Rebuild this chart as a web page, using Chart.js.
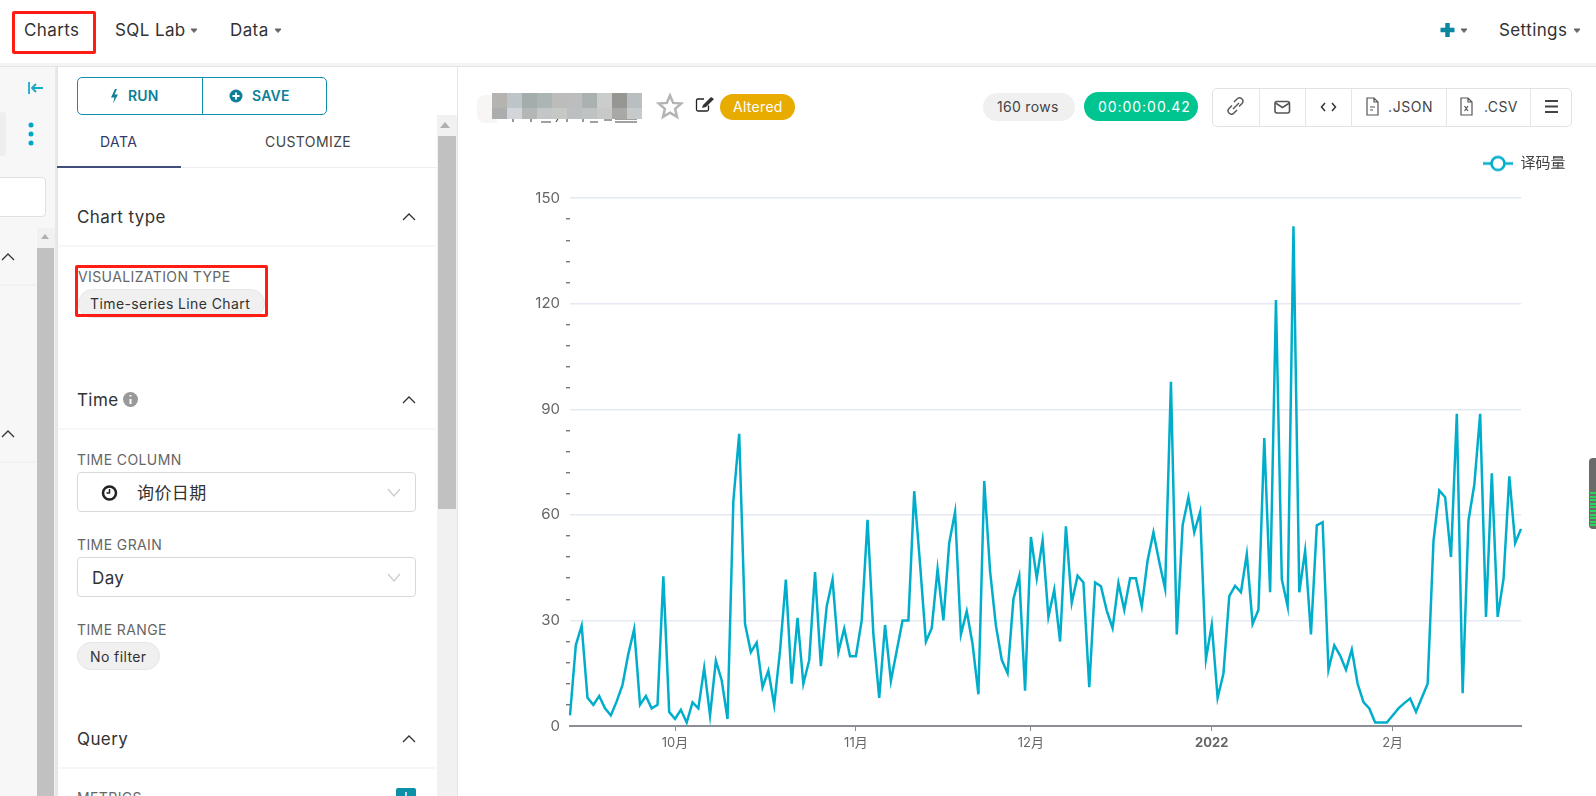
<!DOCTYPE html>
<html><head><meta charset="utf-8">
<script src="https://cdn.jsdelivr.net/npm/chart.js@4"></script>
<style>
html,body{margin:0;padding:0;width:1596px;height:796px;overflow:hidden;background:#fff;font-family:Inter,"Noto Sans CJK SC",sans-serif;color:#323232}
.b{position:absolute;box-sizing:border-box}
.t{position:absolute;white-space:nowrap;transform:translateY(-50%);line-height:1.2;letter-spacing:.4px}
.lab{font-size:14px;color:#666}
.h{font-size:17px;color:#323232}
.sel{position:absolute;box-sizing:border-box;left:77px;width:339px;height:40px;border:1px solid #d9d9d9;border-radius:4px}
.pill{position:absolute;box-sizing:border-box;background:#f0f0f0;border:1px solid #e6e6e6;border-radius:15px}
svg{position:absolute;overflow:visible}
canvas{position:absolute;left:458px;top:130px}
</style></head><body>

<!-- left collapsed panel -->
<div class="b" style="left:0;top:67px;width:57px;height:729px;background:#f7f7f7;border-right:2px solid #e8e8e8"></div>
<div class="b" style="left:0;top:112px;width:6px;height:44px;background:#eee;border-radius:0 4px 4px 0"></div>
<div class="b" style="left:-6px;top:177px;width:52px;height:40px;background:#fff;border:1px solid #e0e0e0;border-radius:4px"></div>
<div class="b" style="left:37px;top:228px;width:18px;height:568px;background:#f1f1f1"></div>
<div class="b" style="left:37px;top:248px;width:17px;height:548px;background:#c1c1c1"></div>
<svg style="left:0;top:0" width="60" height="796">
 <path d="M41 234l4 5h-8z" transform="translate(4,0)" fill="#b0b0b0"/>
 <path d="M2 260l6-6 6 6M2 437l6-6 6 6" fill="none" stroke="#323232" stroke-width="1.3"/>
 <path d="M0 285H36M0 462H36" stroke="#ececec"/>
 <path d="M29 82v12M43 88H32M36 84l-4 4 4 4" fill="none" stroke="#19a8c9" stroke-width="1.8"/>
 <circle cx="31" cy="125" r="2.5" fill="#00a6c8"/><circle cx="31" cy="134" r="2.5" fill="#00a6c8"/><circle cx="31" cy="143" r="2.5" fill="#00a6c8"/>
</svg>

<!-- top nav -->
<div class="b" style="left:0;top:0;width:1596px;height:63px;background:#fff"></div>
<div class="b" style="left:0;top:63px;width:1596px;height:4px;background:#f4f4f4;border-bottom:1px solid #e4e4e4"></div>
<div class="b" style="left:12px;top:11px;width:84px;height:43px;border:3px solid #ff1d14;border-radius:2px"></div>
<span class="t" style="left:24px;top:30px;font-size:17px">Charts</span>
<span class="t" style="left:115px;top:30px;font-size:17px">SQL Lab</span>
<span class="t" style="left:230px;top:30px;font-size:17px">Data</span>
<span class="t" style="left:1499px;top:30px;font-size:17px">Settings</span>
<svg style="left:0;top:0" width="1596" height="60">
 <path d="M191 29h6l-3 3.500zM275 29h6l-3 3.500zM1461 29h6l-3 3.500zM1574 29h6l-3 3.500z" fill="#666" stroke="#666"/>
 <path d="M1447.500 23v14M1440.500 30h14" stroke="#0d86a0" stroke-width="4.500"/>
</svg>

<!-- control panel -->
<div class="b" style="left:57px;top:67px;width:1px;height:729px;background:#e4e4e4"></div>
<div class="b" style="left:77px;top:77px;width:250px;height:38px;border:1px solid #0d8fa8;border-radius:5px"></div>
<div class="b" style="left:202px;top:77px;width:1px;height:38px;background:#0d8fa8"></div>
<span class="t" style="left:128px;top:96px;font-size:14px;font-weight:600;color:#0d7f97;letter-spacing:.2px">RUN</span>
<span class="t" style="left:252px;top:96px;font-size:14px;font-weight:600;color:#0d7f97;letter-spacing:.2px">SAVE</span>
<svg style="left:0;top:0" width="460" height="796">
 <path d="M115 89l-4 8.500h3.500l-1.500 6 5-9h-3.500l2.500-5.500z" fill="#0d7f97"/>
 <circle cx="236" cy="96" r="6.500" fill="#0d7f97"/><path d="M232.500 96h7M236 92.500v7" stroke="#fff" stroke-width="1.800"/>
 <path d="M403 220l6-6 6 6M403 403l6-6 6 6M403 742l6-6 6 6" fill="none" stroke="#323232" stroke-width="1.300"/>
 <path d="M57 246H436M57 429H436M57 768H436" stroke="#efefef"/>
 <circle cx="130.500" cy="399.500" r="7.500" fill="#999"/><path d="M130.500 399v5M130.500 395v1.600" stroke="#fff" stroke-width="2"/>
 <path d="M388 489l6 7 6-7M388 574l6 7 6-7" fill="none" stroke="#ccc" stroke-width="1.200"/>
 <circle cx="109.500" cy="493" r="6.500" fill="#fff" stroke="#222" stroke-width="2.500"/><path d="M109.500 489v4h-3" fill="none" stroke="#222" stroke-width="1.500"/>
</svg>
<span class="t" style="left:100px;top:142px;font-size:14px;color:#323a6a">DATA</span>
<span class="t" style="left:265px;top:142px;font-size:14px;color:#444">CUSTOMIZE</span>
<div class="b" style="left:57px;top:166px;width:124px;height:2px;background:#444e7c"></div>
<div class="b" style="left:181px;top:167px;width:256px;height:1px;background:#efefef"></div>
<span class="t h" style="left:77px;top:217px">Chart type</span>
<span class="t lab" style="left:78px;top:277px">VISUALIZATION TYPE</span>
<div class="pill" style="left:78px;top:289px;width:187px;height:29px"></div>
<span class="t" style="left:90px;top:304px;font-size:14px">Time-series Line Chart</span>
<div class="b" style="left:75px;top:265px;width:193px;height:52px;border:3px solid #ff1d14;border-radius:2px"></div>
<span class="t h" style="left:77px;top:400px">Time</span>
<span class="t lab" style="left:77px;top:460px">TIME COLUMN</span>
<div class="sel" style="top:472px"></div>
<span class="t" style="left:137px;top:493px;font-size:17px">询价日期</span>
<span class="t lab" style="left:77px;top:545px">TIME GRAIN</span>
<div class="sel" style="top:557px"></div>
<span class="t" style="left:92px;top:578px;font-size:17px">Day</span>
<span class="t lab" style="left:77px;top:630px">TIME RANGE</span>
<div class="pill" style="left:77px;top:642px;width:83px;height:28px"></div>
<span class="t" style="left:90px;top:657px;font-size:14px">No filter</span>
<span class="t h" style="left:77px;top:739px">Query</span>
<span class="t lab" style="left:77px;top:798px">METRICS</span>
<div class="b" style="left:396px;top:788px;width:20px;height:20px;background:#0d8fa8;border-radius:2px"></div>
<svg style="left:0;top:0" width="460" height="796"><path d="M406 792v4" stroke="#fff" stroke-width="1.500"/></svg>
<div class="b" style="left:437px;top:115px;width:20px;height:681px;background:#f1f1f1"></div>
<div class="b" style="left:438px;top:136px;width:18px;height:373px;background:#c1c1c1"></div>
<svg style="left:0;top:0" width="460" height="140"><path d="M445 122l5 6h-10z" fill="#b0b0b0"/></svg>
<div class="b" style="left:457px;top:67px;width:1px;height:729px;background:#e4e4e4"></div>

<!-- chart header -->
<div class="b" style="left:477px;top:95px;width:20px;height:28px;background:#f7f6f5;border-radius:8px 0 0 8px"></div>
<svg style="left:0;top:0" width="700" height="140">
 <path d="M513 119v3M531 117v5M541 118h10M551 122h-10M559 117l-3 5M567 117v5M583 117v5M590 118h8M590 122h8M604 120h8M615 119h22M615 122h22" stroke="#444" fill="none" stroke-width="1.100"/>
 <g id="blur"></g>
 <path d="M670 95.500l3.200 7.400 8 .7-6.100 5.300 1.900 7.900-7-4.200-7 4.200 1.900-7.900-6.100-5.300 8-.7z" fill="none" stroke="#b4b4b4" stroke-width="2.500"/>
 <path d="M704 99h-6a1.500 1.500 0 0 0-1.500 1.500v9a1.500 1.500 0 0 0 1.500 1.500h9a1.500 1.500 0 0 0 1.500-1.500v-4" fill="none" stroke="#222" stroke-width="1.300"/><path d="M703 105l8-8 3 2-8 8-4 1z" fill="#333"/>
</svg>
<div class="b" style="left:720px;top:94px;width:75px;height:26px;background:#e8ab00;border-radius:13px"></div>
<span class="t" style="left:733px;top:107px;font-size:14px;color:#fff;letter-spacing:.3px">Altered</span>
<div class="b" style="left:983px;top:93px;width:92px;height:28px;background:#f0f0f0;border-radius:14px"></div>
<span class="t" style="left:997px;top:107px;font-size:14px;color:#444;letter-spacing:.3px">160 rows</span>
<div class="b" style="left:1084px;top:92px;width:114px;height:29px;background:#00c590;border-radius:15px"></div>
<span class="t" style="left:1098px;top:107px;font-size:14px;color:#fff;letter-spacing:.95px">00:00:00.42</span>
<div class="b" style="left:1212px;top:88px;width:360px;height:39px;border:1px solid #e2e2e2;border-radius:5px"></div>
<svg style="left:0;top:0" width="1596" height="140">
 <path d="M1259.500 89v37M1305.500 89v37M1351.500 89v37M1446.500 89v37M1530.500 89v37" stroke="#e6e6e6"/>
 <path d="M1234 102l3-3a3.200 3.200 0 0 1 5 4.500l-3 3M1237 110l-3 3a3.200 3.200 0 0 1-5-4.500l3-3M1233 109l6-6" fill="none" stroke="#555" stroke-width="1.400"/>
 <rect x="1275" y="101.500" width="14.500" height="11.500" rx="2" fill="none" stroke="#555" stroke-width="1.600"/><path d="M1275.500 103l7 4.500 7-4.500" fill="none" stroke="#555" stroke-width="1.500"/>
 <path d="M1325 103l-3.500 4 3.500 4M1332 103l3.500 4-3.500 4" fill="none" stroke="#333" stroke-width="1.500"/>
 <path d="M1367 98h7l4 4v13h-11zM1374 98v4h4M1370 107h5M1370 110h3" fill="none" stroke="#555" stroke-width="1.200"/>
 <path d="M1461 98h7l4 4v13h-11zM1468 98v4h4M1464.500 106l3.500 5M1468 106l-3.500 5" fill="none" stroke="#555" stroke-width="1.200"/>
 <path d="M1545 101h13M1545 106.500h13M1545 112h13" stroke="#444" stroke-width="2"/>
</svg>
<span class="t" style="left:1388px;top:107px;font-size:14px;color:#444;letter-spacing:.6px">.JSON</span>
<span class="t" style="left:1484px;top:107px;font-size:14px;color:#444;letter-spacing:.4px">.CSV</span>

<!-- edge widget -->
<div class="b" id="edge" style="left:1589px;top:458px;width:8px;height:71px;background:#6a6a6a;border-radius:4px 0 0 4px;overflow:hidden"></div>

<canvas id="c" width="1138" height="666"></canvas>

<script>
// ---- chart data ----
const seriesName = '译码量';
const startDate = [2021, 8, 13];
const dayValues = [
 3,23,28.5,8,6,8.5,5,3,7,11.7,20.5,27.5,6,8.5,5,6,42.5,4,2,4.6,
 1,6.7,5,16.5,3,18.5,13,2,64,83,29,21,23.7,11,15.7,6,21.4,41.6,12,30.7,
 12,18.7,43.7,17,34,41.6,21,27.7,19.8,19.8,30,58.6,26,8,28.7,12.8,21.4,30,30,66.7,
 46,24,27.8,44.6,30,52,60.8,26,32.6,23.3,9,69.6,44,28.5,18.8,15,36,42.5,10,53.7,
 42,52.7,31,38.7,24,56.7,35,42.7,40.8,11,40.8,39.7,32.8,27.8,40.6,33,42,42,34,47,
 55,46.6,39,97.8,26,57,65,55,60.8,19,28.8,8,14.9,36.9,39.8,38,48.8,29,33,81.8,
 38,121,41.7,34,142,38,49.8,26,57,57.9,16,22.9,20,16,21.7,12,6.8,5,1,1,
 1,3,5,6.5,7.8,4,8,12,52.5,66.9,65,48,88.7,9.3,58.4,68.6,88.7,31,71.8,31,
 41.7,70.9,52,56
];
const monthStarts = ['2021-10-01','2021-11-01','2021-12-01','2022-01-01','2022-02-01'];
const monthLabels = ['10月','11月','12月','2022','2月'];
const yMajor = [0,30,60,90,120,150];
const yMinorStep = 6;
const yMax = 150;

const pad = n => String(n).padStart(2,'0');
const dayLabels = dayValues.map((_, i) => {
  const d = new Date(Date.UTC(startDate[0], startDate[1], startDate[2] + i));
  return d.getUTCFullYear() + '-' + pad(d.getUTCMonth() + 1) + '-' + pad(d.getUTCDate());
});

// blurred title mosaic
const blurColors = [['#b4b3af','#bdc5c8','#a3adac','#abb5b4','#bcbcbb','#bcbebd','#abb1b1','#cbcdcc','#969792','#b9bfc0'],
                    ['#abaeac','#d2d5da','#b4b6b5','#c2c6c6','#c6c8c6','#bcbfbf','#bfc2c3','#c6c9c8','#a8a9a7','#c6cacb']];
const NS = 'http://www.w3.org/2000/svg', blur = document.getElementById('blur');
blurColors.forEach((row, r) => row.forEach((col, k) => {
  const el = document.createElementNS(NS,'rect');
  el.setAttribute('x', 492 + k * 15); el.setAttribute('y', r ? 108 : 93);
  el.setAttribute('width', 15); el.setAttribute('height', r ? 11 : 15); el.setAttribute('fill', col);
  blur.appendChild(el);
}));
const edge = document.getElementById('edge');
for (let k = 0; k < 10; k++) {
  const s = document.createElement('div');
  s.style.cssText = 'position:absolute;left:1px;width:8px;height:2px;background:#2ed35a;top:' + (34 + k * 3.6) + 'px';
  edge.appendChild(s);
}

// legend symbol: line with an open circle
const lineColor = '#00AECB';
const sym = document.createElement('canvas'); sym.width = 30; sym.height = 18;
const sc = sym.getContext('2d');
sc.strokeStyle = lineColor; sc.lineWidth = 2.6;
sc.beginPath(); sc.moveTo(0,9); sc.lineTo(30,9); sc.stroke();
sc.fillStyle = '#fff'; sc.beginPath(); sc.arc(15,9,6.5,0,Math.PI*2); sc.fill(); sc.stroke();

const fontFam = 'Inter, "Noto Sans CJK SC", sans-serif';
new Chart(document.getElementById('c'), {
  type: 'line',
  data: { labels: dayLabels, datasets: [{
    label: seriesName, data: dayValues, borderColor: lineColor, backgroundColor: lineColor,
    borderWidth: 2.5, pointRadius: 0, tension: 0, fill: false, borderJoinStyle: 'miter'
  }]},
  plugins: [{ id:'legendPlace', afterLayout(ch){
    const l = ch.legend; l.left = 1021; l.right = 1138; l.top = 25; l.bottom = 45;
  }}],
  options: {
    responsive: false, animation: false, devicePixelRatio: 1,
    layout: { padding: { left: 0, right: 75, top: 68, bottom: 0 } },
    plugins: {
      tooltip: { enabled: false },
      legend: { display: true, position: 'chartArea', align: 'end',
        labels: { usePointStyle: true, pointStyle: sym, pointStyleWidth: 30, boxHeight: 14, padding: 4,
          color: '#444', font: { family: fontFam, size: 15 } } }
    },
    scales: {
      x: { type: 'category', offset: false,
        afterFit(s){ s.height = 70; },
        border: { display: true, color: '#8b8e96', width: 2 },
        grid: { drawOnChartArea: false, drawTicks: true, tickLength: 5, tickColor: '#8b8e96', tickWidth: 1 },
        ticks: { autoSkip: false, maxRotation: 0, padding: 4, color: '#666',
          font: c => ({ family: fontFam, size: 13, weight: c.tick && c.tick.label === '2022' ? 'bold' : 'normal' }),
          callback(v){ const k = monthStarts.indexOf(this.getLabelForValue(v)); return k < 0 ? null : monthLabels[k]; } } },
      y: { min: 0, max: yMax,
        afterFit(s){ s.width = 112; },
        border: { display: false },
        grid: { drawTicks: true, tickLength: 4, lineWidth: 1.4,
          color: c => yMajor.includes(c.tick.value) && c.tick.value !== 0 ? '#e4e9f2' : 'rgba(0,0,0,0)',
          tickColor: c => yMajor.includes(c.tick.value) ? 'rgba(0,0,0,0)' : '#777' },
        ticks: { stepSize: yMinorStep, autoSkip: false, padding: 6, color: '#666', font: { family: fontFam, size: 15 },
          callback: v => yMajor.includes(v) ? String(v) : '' } }
    }
  }
});
</script>
</body></html>
